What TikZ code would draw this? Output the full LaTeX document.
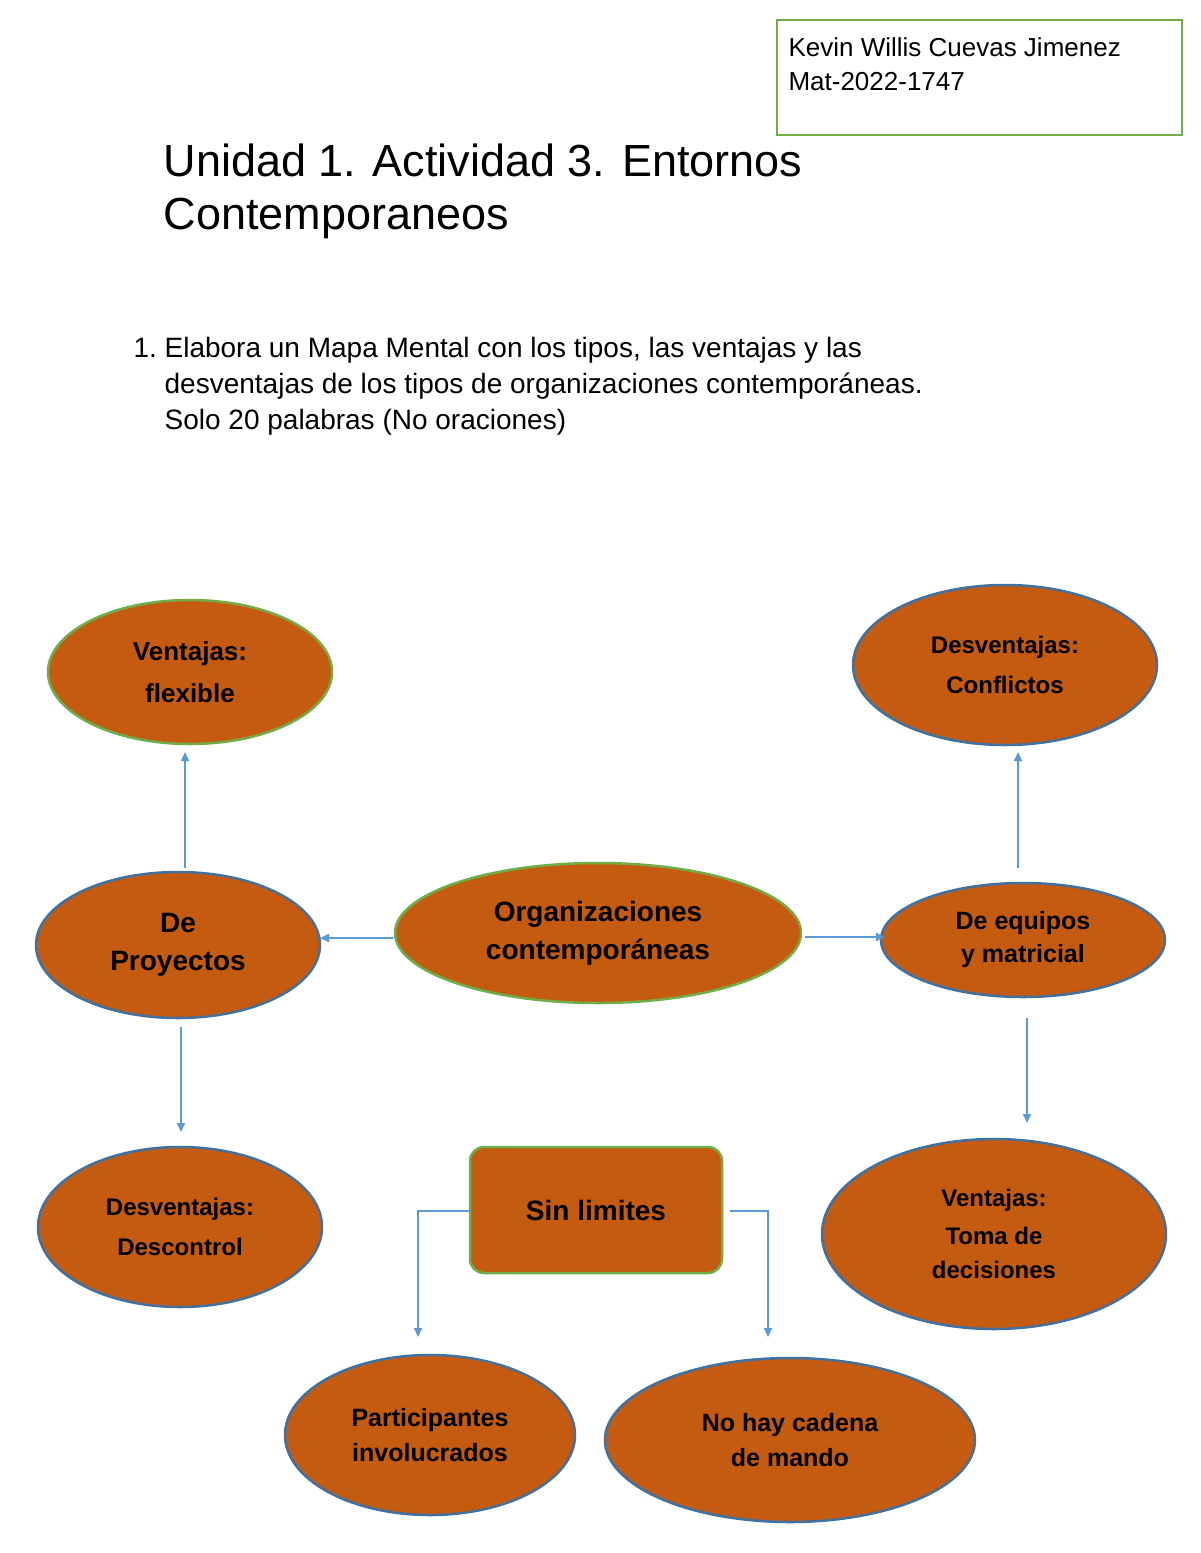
\documentclass[tikz,border=0pt]{standalone}
\usepackage{fontspec}
\setmainfont{Liberation Sans}
\usetikzlibrary{shapes.geometric,arrows.meta}
\definecolor{org}{HTML}{C55A11}
\definecolor{grn}{HTML}{70AD47}
\definecolor{bord}{HTML}{41719C}
\definecolor{arr}{HTML}{5B9BD5}
\tikzset{
 ell/.style={ellipse,fill=org,draw=bord,line width=2.5pt,inner sep=0pt,align=center,font=\fontsize{26}{36}\selectfont\bfseries,text=black},
 ellg/.style={ell,draw=grn},
 con/.style={draw=arr,line width=2pt,-{Triangle[length=9pt,width=8pt]}}
}
\begin{document}
\begin{tikzpicture}[x=1pt,y=-1pt]
\useasboundingbox (0,0) rectangle (1200,1553);
\fill[white] (0,0) rectangle (1200,1553);
\node[draw=grn,line width=2pt,minimum width=405pt,minimum height=115pt,anchor=north west] (name) at (776,19) {};
\node[anchor=north west,align=left,font=\fontsize{26}{34}\selectfont] (nt) at (785,34) {Kevin Willis Cuevas Jimenez\\Mat-2022-1747};
\node[anchor=north west,align=left,font=\fontsize{45}{53}\selectfont] (title) at (160,140) {Unidad 1. Actividad 3. Entornos\\Contemporaneos};
\node[anchor=north west,align=left,font=\fontsize{28}{36}\selectfont] (q) at (130,334) {1.\ Elabora un Mapa Mental con los tipos, las ventajas y las\\\phantom{1.\ }desventajas de los tipos de organizaciones contemporáneas.\\\phantom{1.\ }Solo 20 palabras (No oraciones)};

\node[ellg,minimum width=284pt,minimum height=144pt] (vf) at (190,672) {Ventajas:\\[6pt]flexible};
\node[ell,minimum width=304pt,minimum height=160pt,font=\fontsize{24}{34}\selectfont\bfseries] (dc) at (1005,665) {Desventajas:\\[6pt]Conflictos};
\node[ell,minimum width=284pt,minimum height=146pt,font=\fontsize{28}{38}\selectfont\bfseries] (dp) at (178,945) {De\\Proyectos};
\node[ellg,minimum width=406pt,minimum height=140pt,font=\fontsize{28}{38}\selectfont\bfseries] (oc) at (598,933) {Organizaciones\\contemporáneas};
\node[ell,minimum width=284pt,minimum height=114pt,font=\fontsize{25}{33}\selectfont\bfseries] (de) at (1023,940) {De equipos\\y matricial};
\node[ell,minimum width=284pt,minimum height=160pt,font=\fontsize{24}{34}\selectfont\bfseries] (dd) at (180,1227) {Desventajas:\\[6pt]Descontrol};
\node[draw=grn,fill=org,line width=2.5pt,rounded corners=14pt,minimum width=252pt,minimum height=126pt,font=\fontsize{28}{36}\selectfont\bfseries] (sl) at (596,1210) {Sin limites};
\node[ell,minimum width=344pt,minimum height=190pt,font=\fontsize{24}{34}\selectfont\bfseries] (vt) at (994,1234) {Ventajas:\\[4pt]Toma de\\decisiones};
\node[ell,minimum width=290pt,minimum height=160pt,font=\fontsize{25}{35}\selectfont\bfseries] (pi) at (430,1435) {Participantes\\involucrados};
\node[ell,minimum width=370pt,minimum height=164pt,font=\fontsize{25}{35}\selectfont\bfseries] (nh) at (790,1440) {No hay cadena\\de mando};

\coordinate (a1) at (185,868); \coordinate (b1) at (185,752);
\coordinate (a2) at (393,938); \coordinate (b2) at (320,938);
\coordinate (a3) at (805,937); \coordinate (b3) at (885,937);
\coordinate (a4) at (1018,868); \coordinate (b4) at (1018,752);
\coordinate (a5) at (181,1027); \coordinate (b5) at (181,1132);
\coordinate (a6) at (1027,1018); \coordinate (b6) at (1027,1123);
\coordinate (a7) at (470,1211); \coordinate (b7) at (418,1337);
\coordinate (a8) at (730,1211); \coordinate (b8) at (768,1337);
\draw[con] (a1)--(b1);
\draw[con] (a2)--(b2);
\draw[con] (a3)--(b3);
\draw[con] (a4)--(b4);
\draw[con] (a5)--(b5);
\draw[con] (a6)--(b6);
\draw[con] (a7)-|(b7);
\draw[con] (a8)-|(b8);
\end{tikzpicture}
\end{document}
